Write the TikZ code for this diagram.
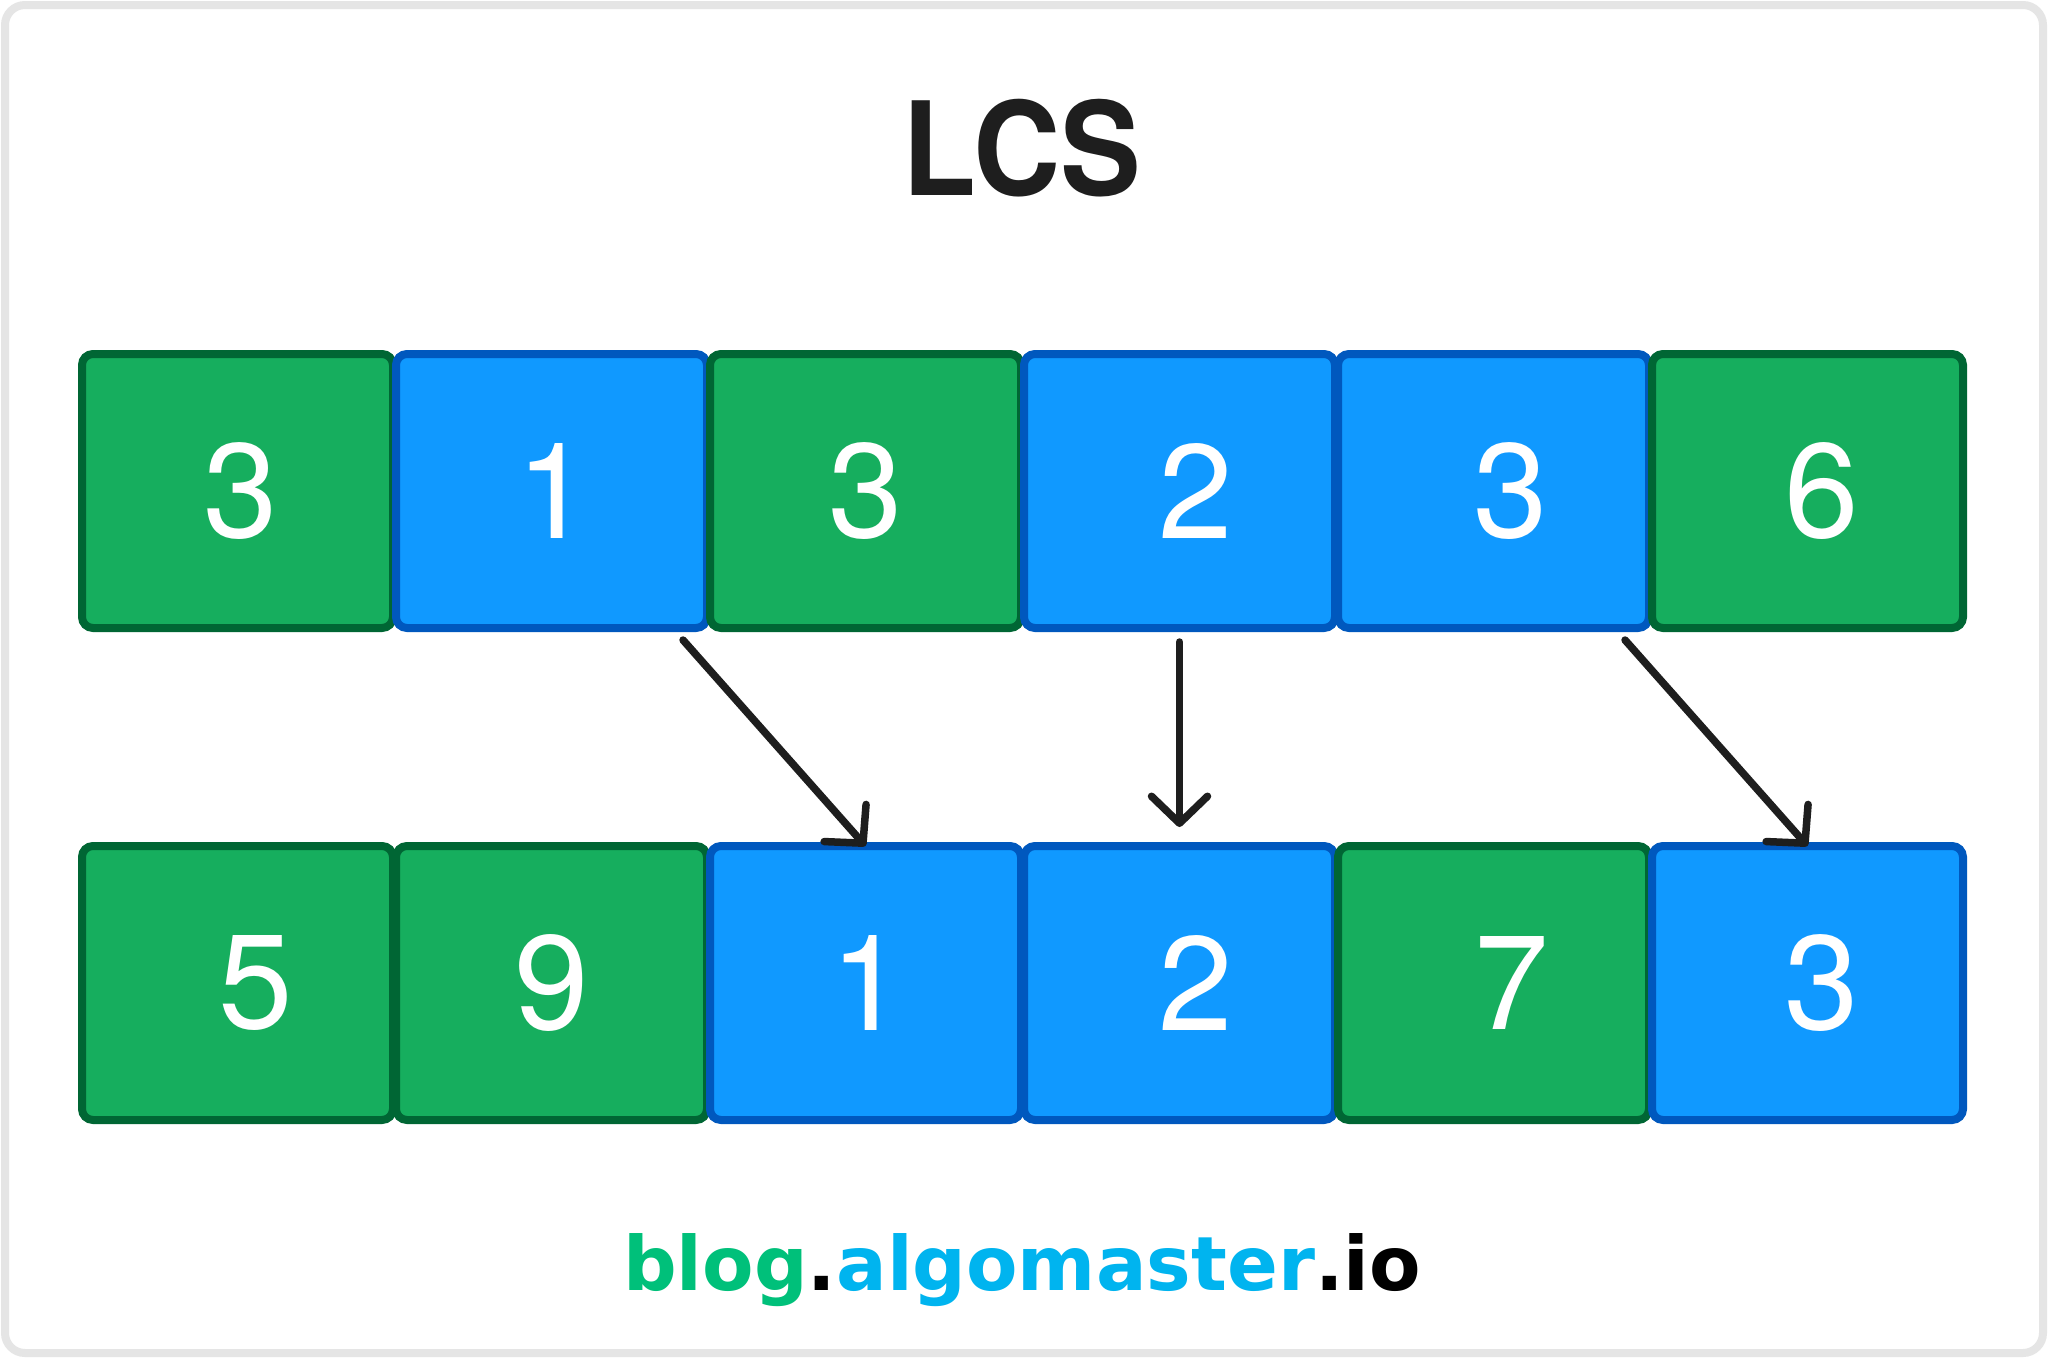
\documentclass[tikz,border=0pt]{standalone}
\usepackage{fontspec}
\setmainfont{TeX Gyre Heros}
\newfontfamily\footfont{DejaVu Sans}
\usetikzlibrary{arrows.meta}
\definecolor{gfill}{HTML}{16AE5E}
\definecolor{gline}{HTML}{006634}
\definecolor{bfill}{HTML}{1099FF}
\definecolor{bline}{HTML}{0058BE}
\definecolor{framegray}{HTML}{E5E5E5}
\definecolor{inkc}{HTML}{1E1E1E}
\definecolor{fgreen}{HTML}{00C07A}
\definecolor{fblue}{HTML}{00B4EF}
\begin{document}
\begin{tikzpicture}[x=1pt,y=-1pt,
  cell/.style={minimum width=311pt,minimum height=274pt,inner sep=0pt,outer sep=0pt,line width=8pt,rounded corners=11pt},
  gcell/.style={cell,fill=gfill,draw=gline},
  bcell/.style={cell,fill=bfill,draw=bline},
  digit/.style={text=white,font=\fontsize{134}{134}\selectfont,inner sep=0pt},
  link/.style={draw=inkc,line width=7.5pt,line cap=round,-{Straight Barb[length=27pt,width=56pt,line cap=round,line join=round]}}]
\fill[white] (0,0) rectangle (2048,1358);
\useasboundingbox (0,0) rectangle (2048,1358);
\draw[framegray,line width=8pt,rounded corners=20pt] (5,5) rectangle (2043,1353);
% title
\node[anchor=base,text=inkc,font=\fontsize{130}{130}\bfseries\selectfont,inner sep=0pt] (title) at (1022,195) {\scalebox{0.93}[1]{LCS}};
% top row
\node[gcell] (t0) at (237.5,491) {};
\node[bcell] (t1) at (551.5,491) {};
\node[gcell] (t2) at (865.5,491) {};
\node[bcell] (t3) at (1179.5,491) {};
\node[bcell] (t4) at (1493.5,491) {};
\node[gcell] (t5) at (1807.5,491) {};
\node[digit] (t0d) at ([xshift=3pt]t0.center) {3};
\node[digit] (t1d) at ([xshift=2pt]t1.center) {1};
\node[digit] (t2d) at (t2.center) {3};
\node[digit] (t3d) at ([xshift=16pt]t3.center) {2};
\node[digit] (t4d) at ([xshift=17pt]t4.center) {3};
\node[digit] (t5d) at ([xshift=14pt]t5.center) {6};
% bottom row
\node[gcell] (b0) at (237.5,983) {};
\node[gcell] (b1) at (551.5,983) {};
\node[bcell] (b2) at (865.5,983) {};
\node[bcell] (b3) at (1179.5,983) {};
\node[gcell] (b4) at (1493.5,983) {};
\node[bcell] (b5) at (1807.5,983) {};
\node[digit] (b0d) at ([xshift=18pt]b0.center) {5};
\node[digit] (b1d) at (b1.center) {9};
\node[digit] (b2d) at ([xshift=2pt]b2.center) {1};
\node[digit] (b3d) at ([xshift=16pt]b3.center) {2};
\node[digit] (b4d) at ([xshift=18pt]b4.center) {7};
\node[digit] (b5d) at ([xshift=14pt]b5.center) {3};
% arrows
\draw[link] ([xshift=-24pt,yshift=-12pt]t1.south east) -- (b2.north);
\draw[link] ([yshift=-14pt]t3.south) -- ([yshift=19pt]b3.north);
\draw[link] ([xshift=-24pt,yshift=-12pt]t4.south east) -- (b5.north);
% footer
\node[anchor=base,inner sep=0pt,font=\footfont\fontsize{75}{75}\bfseries\selectfont] (foot) at (1022,1290) {\textcolor{fgreen}{blog}.\textcolor{fblue}{algomaster}.io};
\end{tikzpicture}
\end{document}
